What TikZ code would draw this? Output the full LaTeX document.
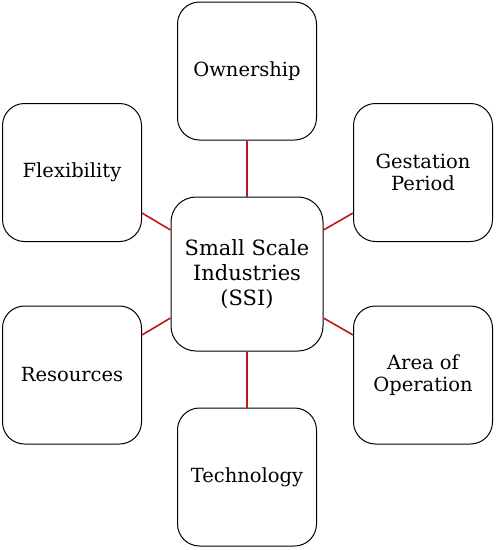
\documentclass[tikz,border=0pt]{standalone}
\usepackage{fontspec}
\setmainfont{DejaVu Serif}
\usepackage{xcolor}
\usetikzlibrary{positioning}
\definecolor{ssired}{RGB}{190,25,25}

\begin{document}
\begin{tikzpicture}[x=1pt, y=-1pt,
    box/.style={draw, rectangle, rounded corners=22pt, line width=1pt, minimum width=139pt, minimum height=138pt, align=center, font=\fontsize{19.5}{21.5}\selectfont},
    hub/.style={box, minimum width=152pt, minimum height=154pt, rounded corners=25pt, font=\fontsize{21}{25}\selectfont},
    link/.style={draw=ssired, line width=1.6pt}]
    \useasboundingbox (0,0) rectangle (498,550);
    \node[hub] (ssi) at (247,274) {Small Scale\\Industries\\(SSI)};
    \node[box] (own) at (247,71) {Ownership};
    \node[box] (flex) at (72,172.5) {Flexibility};
    \node[box] (gest) at (423,172.5) {Gestation\\Period};
    \node[box] (res) at (72,375) {Resources};
    \node[box] (area) at (423,375) {Area of\\Operation};
    \node[box] (tech) at (247,477) {Technology};
    
    \draw[link] (ssi.north) -- (own.south);
    \draw[link] (ssi.south) -- (tech.north);
    \draw[link] ([yshift=-40.5pt]flex.east) -- ([yshift=44pt]ssi.west);
    \draw[link] ([yshift=-40.5pt]gest.west) -- ([yshift=44pt]ssi.east);
    \draw[link] ([yshift=40pt]res.east) -- ([yshift=-44pt]ssi.west);
    \draw[link] ([yshift=40pt]area.west) -- ([yshift=-44pt]ssi.east);
\end{tikzpicture}
\end{document}
